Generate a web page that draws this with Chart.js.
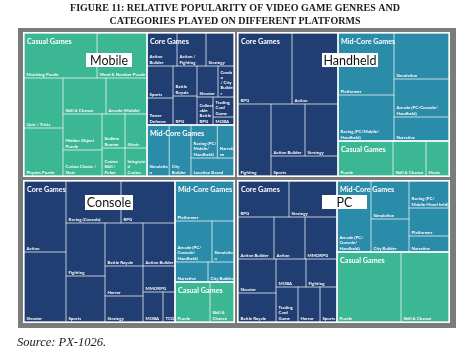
<!DOCTYPE html>
<html><head><meta charset="utf-8">
<script src="https://cdn.jsdelivr.net/npm/chart.js@4.4.1/dist/chart.umd.min.js"></script>
<style>html,body{margin:0;padding:0;background:#fff}</style>
</head><body>
<canvas id="c" width="474" height="357"></canvas>
<script>
// ---------------- DATA ----------------
const titleLines = ['FIGURE 11: RELATIVE POPULARITY OF VIDEO GAME GENRES AND', 'CATEGORIES PLAYED ON DIFFERENT PLATFORMS'];
const sourceText = 'Source: PX-1026.';
const platformNames = ['Mobile', 'Handheld', 'Console', 'PC'];

// Mobile
const mobileGroups = ['Casual Games', 'Core Games', 'Mid-Core Games'];
const mobileGroupRows = [1, 1, 1];
const mobileCasualLabels = ['Matching Puzzle', 'Word & Number Puzzle', 'Quiz / Trivia', 'Physics Puzzle', 'Skill & Chance', 'Arcade (Mobile)', 'Hidden Object Puzzle', 'Casino Classic / Slots', 'Endless Runner', 'Music', 'Casino Skill / Poker', 'Integrated Casino'];
const mobileCasualValues = [3285, 2250, 1950, 1872, 1548, 1476, 1404, 1014, 782, 748, 644, 616];
const mobileCasualRows = [2, 2, 2, 2, 2, 1, 1];
const mobileCoreLabels = ['Action Builder', 'Action / Fighting', 'Strategy', 'Sports', 'Tower Defence', 'Battle Royale', 'RPG', 'Shooter', 'Combo / City Builder', 'Collectable Battle RPG', 'Trading Card Game', 'MOBA'];
const mobileCoreValues = [990, 957, 924, 832, 702, 720, 696, 651, 496, 448, 420, 168];
const mobileCoreRows = [3, 2, 2, 2, 1, 1, 1];
const mobileMidLabels = ['Simulation', 'City Builder', 'Racing (PC/Mobile/Handheld)', 'Narrative', 'Location Based'];
const mobileMidValues = [1130, 1110, 868, 551, 774];
const mobileMidRows = [1, 1, 2, 1];

// Handheld
const handheldGroups = ['Core Games', 'Mid-Core Games', 'Casual Games'];
const handheldGroupRows = [1, 1, 1];
const handheldCoreLabels = ['RPG', 'Action', 'Fighting', 'Action Builder', 'Strategy', 'Sports'];
const handheldCoreValues = [3834, 3266, 2376, 1768, 1716, 1340];
const handheldCoreRows = [2, 1, 2, 1];
const handheldMidLabels = ['Platformer', 'Racing (PC/Mobile/ Handheld)', 'Simulation', 'Arcade (PC/Console/ Handheld)', 'Narrative'];
const handheldMidValues = [3472, 2576, 2530, 2090, 1320];
const handheldMidRows = [2, 1, 1, 1];
const handheldCasualLabels = ['Puzzle', 'Skill & Chance', 'Music'];
const handheldCasualValues = [1925, 1155, 805];
const handheldCasualRows = [1, 1, 1];

// Console
const consoleGroups = ['Core Games', 'Mid-Core Games', 'Casual Games'];
const consoleGroupRows = [1, 1, 1];
const consoleCoreLabels = ['Action', 'Shooter', 'Racing (Console)', 'RPG', 'Fighting', 'Sports', 'Battle Royale', 'Action Builder', 'Horror', 'Strategy', 'MMORPG', 'MOBA', 'TCG'];
const consoleCoreValues = [2982, 2940, 2310, 2268, 2067, 1794, 1634, 1376, 1140, 988, 832, 600, 360];
const consoleCoreRows = [2, 2, 2, 2, 2, 1, 1, 1];
const consoleMidLabels = ['Platformer', 'Arcade (PC/Console/ Handheld)', 'Simulation', 'Narrative', 'City Builder'];
const consoleMidValues = [2360, 1517, 902, 660, 520];
const consoleMidRows = [1, 2, 1, 1];
const consoleCasualLabels = ['Puzzle', 'Skill & Chance'];
const consoleCasualValues = [1400, 960];
const consoleCasualRows = [1, 1];

// PC
const pcGroups = ['Core Games', 'Mid-Core Games', 'Casual Games'];
const pcGroupRows = [1, 1, 1];
const pcCoreLabels = ['RPG', 'Strategy', 'Action Builder', 'Action', 'MMORPG', 'Shooter', 'Battle Royale', 'MOBA', 'Fighting', 'Trading Card Game', 'Horror', 'Sports'];
const pcCoreValues = [1836, 1728, 1512, 1302, 1344, 1292, 1102, 840, 868, 770, 770, 595];
const pcCoreRows = [2, 3, 2, 2, 1, 1, 1];
const pcMidLabels = ['Arcade (PC/Console/ Handheld)', 'Simulation', 'City Builder', 'Racing (PC/Mobile/Hand held)', 'Platformer', 'Narrative'];
const pcMidValues = [2414, 1444, 1254, 1080, 1120, 640];
const pcMidRows = [1, 2, 1, 1, 1];
const pcCasualLabels = ['Puzzle', 'Skill & Chance'];
const pcCasualValues = [4480, 3360];
const pcCasualRows = [1, 1];

// ---------------- STRUCTURE / STYLE ----------------
const groupColors = { 'Core Games': '#203e72', 'Mid-Core Games': '#2a8ca8', 'Casual Games': '#3cb794' };

const platforms = [
  { name: platformNames[0], groupRows: mobileGroupRows, groups: [
    { name: mobileGroups[0], labels: mobileCasualLabels, values: mobileCasualValues, rows: mobileCasualRows },
    { name: mobileGroups[1], labels: mobileCoreLabels, values: mobileCoreValues, rows: mobileCoreRows },
    { name: mobileGroups[2], labels: mobileMidLabels, values: mobileMidValues, rows: mobileMidRows } ] },
  { name: platformNames[1], groupRows: handheldGroupRows, groups: [
    { name: handheldGroups[0], labels: handheldCoreLabels, values: handheldCoreValues, rows: handheldCoreRows },
    { name: handheldGroups[1], labels: handheldMidLabels, values: handheldMidValues, rows: handheldMidRows },
    { name: handheldGroups[2], labels: handheldCasualLabels, values: handheldCasualValues, rows: handheldCasualRows } ] },
  { name: platformNames[2], groupRows: consoleGroupRows, groups: [
    { name: consoleGroups[0], labels: consoleCoreLabels, values: consoleCoreValues, rows: consoleCoreRows },
    { name: consoleGroups[1], labels: consoleMidLabels, values: consoleMidValues, rows: consoleMidRows },
    { name: consoleGroups[2], labels: consoleCasualLabels, values: consoleCasualValues, rows: consoleCasualRows } ] },
  { name: platformNames[3], groupRows: pcGroupRows, groups: [
    { name: pcGroups[0], labels: pcCoreLabels, values: pcCoreValues, rows: pcCoreRows },
    { name: pcGroups[1], labels: pcMidLabels, values: pcMidValues, rows: pcMidRows },
    { name: pcGroups[2], labels: pcCasualLabels, values: pcCasualValues, rows: pcCasualRows } ] }
];

// quadrant panels in scale units (x 0..425, y 0..289)
const panels = [
  { x: 0, y: 0, w: 210, h: 143 }, { x: 214, y: 0, w: 211, h: 143 },
  { x: 0, y: 148, w: 210, h: 141 }, { x: 214, y: 148, w: 211, h: 141 }
];
// platform name boxes, relative to panel (scale units)
const nameBoxes = [ [62, 20, 46, 14], [84, 20, 56, 14], [61, 14, 48, 15], [84, 14, 45, 14] ];

const sum = a => a.reduce((s, v) => s + v, 0);

// strip layout: each strip laid along the shorter side of the remaining rectangle
function stripLayout(rect, values, rows) {
  let { x, y, w, h } = rect;
  let remaining = sum(values), idx = 0;
  const out = [];
  for (const n of rows) {
    const items = values.slice(idx, idx + n);
    const s = sum(items);
    if (w >= h) {
      const sw = w * s / remaining; let cy = y;
      for (const v of items) { const ch = h * v / s; out.push({ x, y: cy, w: sw, h: ch }); cy += ch; }
      x += sw; w -= sw;
    } else {
      const sh = h * s / remaining; let cx = x;
      for (const v of items) { const cw = w * v / s; out.push({ x: cx, y, w: cw, h: sh }); cx += cw; }
      y += sh; h -= sh;
    }
    remaining -= s; idx += n;
  }
  return out;
}

function wrapText(ctx, text, maxW) {
  const tokens = [];
  text.split(' ').forEach((w, wi) => {
    w.split(/(?<=\/)/).forEach((p, pi) => { if (p) tokens.push({ t: p, sp: wi > 0 && pi === 0 }); });
  });
  const lines = []; let cur = '';
  for (const tk of tokens) {
    const cand = cur ? cur + (tk.sp ? ' ' : '') + tk.t : tk.t;
    if (!cur || ctx.measureText(cand).width <= maxW) cur = cand;
    else { lines.push(cur); cur = tk.t; }
  }
  if (cur) lines.push(cur);
  const out = [];
  for (const ln of lines) {
    if (ctx.measureText(ln).width <= maxW || ln.length < 4) { out.push(ln); continue; }
    let s = '';
    for (const ch of ln) {
      if (s && ctx.measureText(s + ch).width > maxW) { out.push(s); s = ch === ' ' ? '' : ch; }
      else s += ch;
    }
    if (s) out.push(s);
  }
  return out;
}

const treemapPlugin = {
  id: 'treemapPanels',
  beforeDraw(chart) {
    const ctx = chart.ctx, xs = chart.scales.x, ys = chart.scales.y;
    const X = v => xs.getPixelForValue(v), Y = v => ys.getPixelForValue(v);
    ctx.save();
    ctx.fillStyle = '#ffffff';
    ctx.fillRect(0, 0, chart.width, chart.height);
    ctx.fillStyle = '#1a1a1a';
    ctx.font = 'bold 10px "Liberation Serif", serif';
    ctx.textAlign = 'center'; ctx.textBaseline = 'middle';
    ctx.fillText(titleLines[0], 235, 8.5);
    ctx.fillText(titleLines[1], 235, 21);
    ctx.font = 'italic 12.5px "Liberation Serif", serif';
    ctx.textAlign = 'left';
    ctx.fillText(sourceText, 17, 343);
    ctx.fillStyle = '#7b7b7b';
    ctx.fillRect(X(-6), Y(-5), X(432) - X(-6), Y(295) - Y(-5));
    ctx.restore();
  },
  afterDatasetsDraw(chart) {
    const ctx = chart.ctx, xs = chart.scales.x, ys = chart.scales.y;
    const X = v => xs.getPixelForValue(v), Y = v => ys.getPixelForValue(v);
    const toPx = r => ({ x: X(r.x), y: Y(r.y), w: X(r.x + r.w) - X(r.x), h: Y(r.y + r.h) - Y(r.y) });
    ctx.save();
    platforms.forEach((pf, pi) => {
      const panel = panels[pi];
      const groupTotals = pf.groups.map(g => sum(g.values));
      const groupRects = stripLayout(panel, groupTotals, pf.groupRows);
      const allCells = [];
      pf.groups.forEach((g, gi) => {
        const cells = stripLayout(groupRects[gi], g.values, g.rows);
        cells.forEach((c, ci) => allCells.push({ r: toPx(c), label: g.labels[ci], color: groupColors[g.name] }));
      });
      allCells.forEach(c => { ctx.fillStyle = c.color; ctx.fillRect(c.r.x, c.r.y, c.r.w, c.r.h); });
      ctx.strokeStyle = 'rgba(255,255,255,0.5)'; ctx.lineWidth = 0.8;
      allCells.forEach(c => ctx.strokeRect(c.r.x, c.r.y, c.r.w, c.r.h));
      ctx.strokeStyle = 'rgba(255,255,255,0.9)'; ctx.lineWidth = 1.2;
      groupRects.forEach(g => { const r = toPx(g); ctx.strokeRect(r.x, r.y, r.w, r.h); });
      const pp = toPx(panel);
      ctx.strokeStyle = '#ffffff'; ctx.lineWidth = 1;
      ctx.strokeRect(pp.x - 0.5, pp.y - 0.5, pp.w + 1, pp.h + 1);
      // cell labels
      ctx.fillStyle = '#ffffff';
      ctx.font = 'bold 4.4px Lato, sans-serif';
      ctx.textAlign = 'left'; ctx.textBaseline = 'alphabetic';
      allCells.forEach(c => {
        const lines = wrapText(ctx, c.label, Math.max(6, c.r.w - 2));
        const lh = 5.2;
        lines.forEach((ln, i) => {
          ctx.fillText(ln, c.r.x + 2.5, c.r.y + c.r.h - 2.5 - (lines.length - 1 - i) * lh);
        });
      });
      // group headers
      ctx.font = 'bold 7.2px Lato, sans-serif';
      ctx.textBaseline = 'middle';
      pf.groups.forEach((g, gi) => {
        const r = toPx(groupRects[gi]);
        ctx.fillText(g.name, r.x + 3, r.y + 9);
      });
      // platform name box
      const nb = nameBoxes[pi];
      const bx = X(panel.x + nb[0]), by = Y(panel.y + nb[1]);
      const bw = X(panel.x + nb[0] + nb[2]) - bx, bh = Y(panel.y + nb[1] + nb[3]) - by;
      ctx.fillStyle = '#ffffff';
      ctx.fillRect(bx, by, bw, bh);
      ctx.fillStyle = '#111111';
      ctx.font = '12.5px Lato, sans-serif';
      ctx.textAlign = 'center'; ctx.textBaseline = 'middle';
      ctx.fillText(pf.name, bx + bw / 2, by + bh / 2 + 0.5);
      ctx.textAlign = 'left';
    });
    ctx.restore();
  }
};

new Chart(document.getElementById('c'), {
  type: 'scatter',
  data: { datasets: [{ data: [] }] },
  options: {
    responsive: false,
    animation: false,
    events: [],
    layout: { padding: { left: 24, right: 25, top: 33, bottom: 35 } },
    scales: {
      x: { type: 'linear', min: 0, max: 425, display: false },
      y: { type: 'linear', min: 0, max: 289, reverse: true, display: false }
    },
    plugins: { legend: { display: false }, tooltip: { enabled: false }, title: { display: false } }
  },
  plugins: [treemapPlugin]
});
</script>
</body></html>
